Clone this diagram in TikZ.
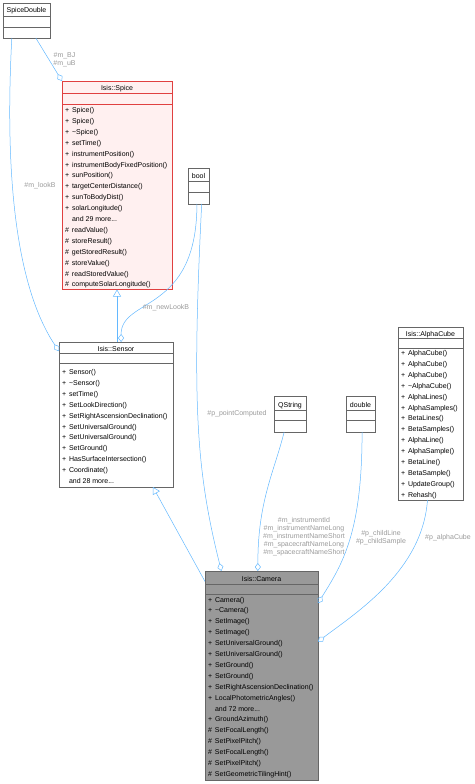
\documentclass[tikz,border=0pt]{standalone}
\usepackage{fontspec}
\setmainfont{Liberation Sans}
\usetikzlibrary{arrows.meta}
\definecolor{edgeblue}{HTML}{63B8FF}
\definecolor{labelgray}{HTML}{9A9A9A}
\definecolor{boxgray}{HTML}{666666}
\definecolor{spicered}{HTML}{E04040}
\definecolor{spicefill}{HTML}{FFF0F0}
\definecolor{camfill}{HTML}{999999}
\newcommand{\pub}{\rule{0pt}{7pt}\makebox[7pt][l]{+}}
\newcommand{\prot}{\rule{0pt}{7pt}\makebox[7pt][l]{\#}}
\newcommand{\more}{\rule{0pt}{7pt}\makebox[7pt][l]{}}
\begin{document}
\begin{tikzpicture}[x=1pt,y=-1pt,inner sep=0pt,outer sep=0pt,
classbox/.style={draw=boxgray,fill=white,line width=0.6pt,anchor=north west},
classname/.style={anchor=base,font=\fontsize{7}{8}\selectfont},
memberlist/.style={anchor=north west,align=left,font=\fontsize{7}{10.9}\selectfont},
edgelabel/.style={text=labelgray,align=center,font=\fontsize{7}{8}\selectfont},
uses/.style={draw=edgeblue,line width=0.5pt,-{Diamond[open,length=8pt,width=6pt]}},
inherits/.style={draw=edgeblue,line width=0.5pt,-{Triangle[open,length=7pt,width=8pt]}}]
\useasboundingbox (0,0) rectangle (474,784);

% value types
\draw (3,3) node[classbox,minimum width=47pt,minimum height=35pt] (spicedouble) {};
\draw (26.5,12.5) node[classname] (spicedoublename) {SpiceDouble};
\draw[boxgray,line width=0.6pt] (3,16) -- (50,16) (3,27) -- (50,27);

\draw (188,168) node[classbox,minimum width=21pt,minimum height=36pt] (booltype) {};
\draw (198.5,178) node[classname] (booltypename) {bool};
\draw[boxgray,line width=0.6pt] (188,181) -- (209,181) (188,192) -- (209,192);

\draw (274,396) node[classbox,minimum width=32pt,minimum height=36pt] (qstring) {};
\draw (290,407.5) node[classname] (qstringname) {QString};
\draw[boxgray,line width=0.6pt] (274,410) -- (306,410) (274,420) -- (306,420);

\draw (346,396) node[classbox,minimum width=29pt,minimum height=36pt] (doubletype) {};
\draw (360.5,407.5) node[classname] (doubletypename) {double};
\draw[boxgray,line width=0.6pt] (346,410) -- (375,410) (346,420) -- (375,420);

% Isis::Spice
\draw (62,81) node[classbox,draw=spicered,fill=spicefill,minimum width=110pt,minimum height=208.5pt] (spice) {};
\draw (117,90.5) node[classname] (spicename) {Isis::Spice};
\draw[spicered,line width=0.6pt] (62,93) -- (172,93) (62,104) -- (172,104);
\draw (65,105.5) node[memberlist] (spicemembers) {\pub Spice()\\
\pub Spice()\\
\pub \textasciitilde Spice()\\
\pub setTime()\\
\pub instrumentPosition()\\
\pub instrumentBodyFixedPosition()\\
\pub sunPosition()\\
\pub targetCenterDistance()\\
\pub sunToBodyDist()\\
\pub solarLongitude()\\
\more and 29 more...\\
\prot readValue()\\
\prot storeResult()\\
\prot getStoredResult()\\
\prot storeValue()\\
\prot readStoredValue()\\
\prot computeSolarLongitude()};

% Isis::Sensor
\draw (59,342) node[classbox,minimum width=114pt,minimum height=145pt] (sensor) {};
\draw (116,351.5) node[classname] (sensorname) {Isis::Sensor};
\draw[boxgray,line width=0.6pt] (59,353) -- (173,353) (59,363) -- (173,363);
\draw (62,367.5) node[memberlist] (sensormembers) {\pub Sensor()\\
\pub \textasciitilde Sensor()\\
\pub setTime()\\
\pub SetLookDirection()\\
\pub SetRightAscensionDeclination()\\
\pub SetUniversalGround()\\
\pub SetUniversalGround()\\
\pub SetGround()\\
\pub HasSurfaceIntersection()\\
\pub Coordinate()\\
\more and 28 more...};

% Isis::AlphaCube
\draw (398,327) node[classbox,minimum width=65pt,minimum height=173pt] (alphacube) {};
\draw (430.5,336) node[classname] (alphacubename) {Isis::AlphaCube};
\draw[boxgray,line width=0.6pt] (398,338) -- (463,338) (398,348) -- (463,348);
\draw (401,348.5) node[memberlist] (alphacubemembers) {\pub AlphaCube()\\
\pub AlphaCube()\\
\pub AlphaCube()\\
\pub \textasciitilde AlphaCube()\\
\pub AlphaLines()\\
\pub AlphaSamples()\\
\pub BetaLines()\\
\pub BetaSamples()\\
\pub AlphaLine()\\
\pub AlphaSample()\\
\pub BetaLine()\\
\pub BetaSample()\\
\pub UpdateGroup()\\
\pub Rehash()};

% Isis::Camera
\draw (205,571) node[classbox,fill=camfill,minimum width=113pt,minimum height=209pt] (camera) {};
\draw (261.5,581.5) node[classname] (cameraname) {Isis::Camera};
\draw[boxgray,line width=0.6pt] (205,584) -- (318,584) (205,594) -- (318,594);
\draw (208,595) node[memberlist] (cameramembers) {\pub Camera()\\
\pub \textasciitilde Camera()\\
\pub SetImage()\\
\pub SetImage()\\
\pub SetUniversalGround()\\
\pub SetUniversalGround()\\
\pub SetGround()\\
\pub SetGround()\\
\pub SetRightAscensionDeclination()\\
\pub LocalPhotometricAngles()\\
\more and 72 more...\\
\pub GroundAzimuth()\\
\prot SetFocalLength()\\
\prot SetPixelPitch()\\
\prot SetFocalLength()\\
\prot SetPixelPitch()\\
\prot SetGeometricTilingHint()};

% connectors
\draw[uses] (spicedouble.-62) -- (spice.north west);
\draw[uses] (spicedouble.-130) .. controls +(-8,150) and +(-40,-60) .. (sensor.132);
\draw[uses] (booltype.-95) .. controls +(0,110) and +(0,-45) .. (sensor.86);
\draw[inherits] (spice.south |- sensor.north) -- (spice.south);
\draw[inherits] (camera.121) -- (sensor.-63);
\draw[uses] (booltype.-80) .. controls +(-10,200) and +(-25,-100) .. (camera.111);
\draw[uses] (qstring.-108) .. controls +(-10,40) and +(0,-70) .. (camera.92);
\draw[uses] (doubletype.-85) .. controls +(0,100) and +(25,-40) .. (camera.52);
\draw[uses] (alphacube.-92) .. controls +(-5,70) and +(40,-30) .. (camera.31);

% labels
\draw (64.5,59.5) node[edgelabel] (bjublabel) {\#m\_BJ\\\#m\_uB};
\draw (40,186) node[edgelabel] (lookblabel) {\#m\_lookB};
\draw (166,307.5) node[edgelabel] (newlookblabel) {\#m\_newLookB};
\draw (237,414) node[edgelabel] (pointlabel) {\#p\_pointComputed};
\draw (304,537) node[edgelabel] (namelabel) {\#m\_instrumentId\\\#m\_instrumentNameLong\\\#m\_instrumentNameShort\\\#m\_spacecraftNameLong\\\#m\_spacecraftNameShort};
\draw (381,537.5) node[edgelabel] (childlabel) {\#p\_childLine\\\#p\_childSample};
\draw (448,538) node[edgelabel] (alphalabel) {\#p\_alphaCube};
\end{tikzpicture}
\end{document}
